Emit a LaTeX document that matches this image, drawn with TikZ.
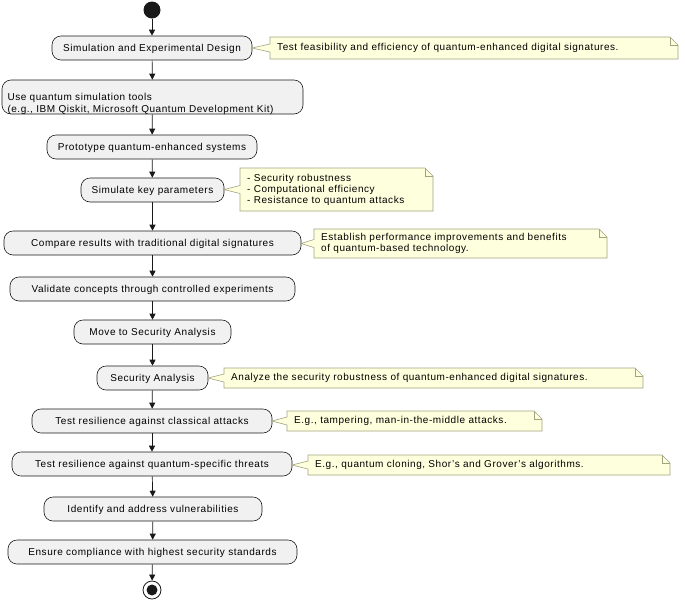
\documentclass[tikz,border=0pt]{standalone}
\usepackage{fontspec}
\setmainfont{Liberation Sans}[LetterSpace=5.5]
\usetikzlibrary{arrows.meta,calc}
\definecolor{actfill}{HTML}{F1F1F1}
\definecolor{notefill}{HTML}{FEFFDD}
\definecolor{noteline}{HTML}{A3A380}
\begin{document}
\begin{tikzpicture}[x=1pt,y=-1pt,
  act/.style={draw=black!90,fill=actfill,rounded corners=9pt,line width=0.6pt,font=\fontsize{10}{11.5}\selectfont,inner sep=0pt,minimum height=24pt,text depth=0pt},
  ntxt/.style={font=\fontsize{10}{11}\selectfont,align=left,inner sep=0pt,anchor=west},
  nshape/.style={draw=noteline,fill=notefill,line width=0.6pt},
  arr/.style={-{Triangle[length=6pt,width=6pt]},line width=0.7pt,black!90}]
\useasboundingbox (0,0) rectangle (685,603);
% start/end
\node[circle,fill=black!90,minimum size=17pt,inner sep=0pt] (s) at (152,10) {};
\node[circle,draw=black!90,line width=0.8pt,minimum size=18pt,inner sep=0pt] (e) at (152,590) {};
\fill[black!90] (e) circle (5.5pt);
% activities
\node[act,minimum width=200pt] (a1) at (152,48) {Simulation and Experimental Design};
\node[act,minimum width=301pt,minimum height=34pt,align=left,text width=290pt] (a2) at (152.5,97) {Use quantum simulation tools\\(e.g., IBM Qiskit, Microsoft Quantum Development Kit)};
\node[act,minimum width=210pt] (a3) at (152,147) {Prototype quantum-enhanced systems};
\node[act,minimum width=143pt] (a4) at (152.5,190) {Simulate key parameters};
\node[act,minimum width=297pt] (a5) at (152.5,243) {Compare results with traditional digital signatures};
\node[act,minimum width=285pt] (a6) at (152.5,289) {Validate concepts through controlled experiments};
\node[act,minimum width=157pt] (a7) at (152.5,332) {Move to Security Analysis};
\node[act,minimum width=111pt] (a8) at (152.5,378) {Security Analysis};
\node[act,minimum width=240pt] (a9) at (152,421) {Test resilience against classical attacks};
\node[act,minimum width=280pt] (a10) at (152,464) {Test resilience against quantum-specific threats};
\node[act,minimum width=218pt] (a11) at (153,509) {Identify and address vulnerabilities};
\node[act,minimum width=289pt] (a12) at (152.5,552) {Ensure compliance with highest security standards};
\foreach \p/\q in {s/a1,a1/a2,a2/a3,a3/a4,a4/a5,a5/a6,a6/a7,a7/a8,a8/a9,a9/a10,a10/a11,a11/a12,a12/e}
  \draw[arr] (\p) -- (\q);
\newcommand{\mynote}[7]{%
  \draw[nshape] (#2,#3) -- (#4-8,#3) -- (#4,#3+8) -- (#4,#5) -- (#2,#5) -- (#2,{(#3+#5)/2+4}) -- (#6,{(#3+#5)/2}) -- (#2,{(#3+#5)/2-4}) -- cycle;
  \draw[nshape,fill=none] (#4-8,#3) -- (#4-8,#3+8) -- (#4,#3+8);
  \node[ntxt] (#1) at (#2+7,{(#3+#5)/2}) {#7};}
\mynote{n1}{270}{37}{678}{59}{252}{Test feasibility and efficiency of quantum-enhanced digital signatures.}
\mynote{n2}{240}{168}{433}{211}{224}{- Security robustness\\- Computational efficiency\\- Resistance to quantum attacks}
\mynote{n3}{314}{229}{607}{258}{301}{Establish performance improvements and benefits\\of quantum-based technology.}
\mynote{n4}{224}{368}{643}{388}{208}{Analyze the security robustness of quantum-enhanced digital signatures.}
\mynote{n5}{287}{411}{542}{431}{272}{E.g., tampering, man-in-the-middle attacks.}
\mynote{n6}{308}{455}{670}{475}{292}{E.g., quantum cloning, Shor's and Grover's algorithms.}
\end{tikzpicture}
\end{document}
